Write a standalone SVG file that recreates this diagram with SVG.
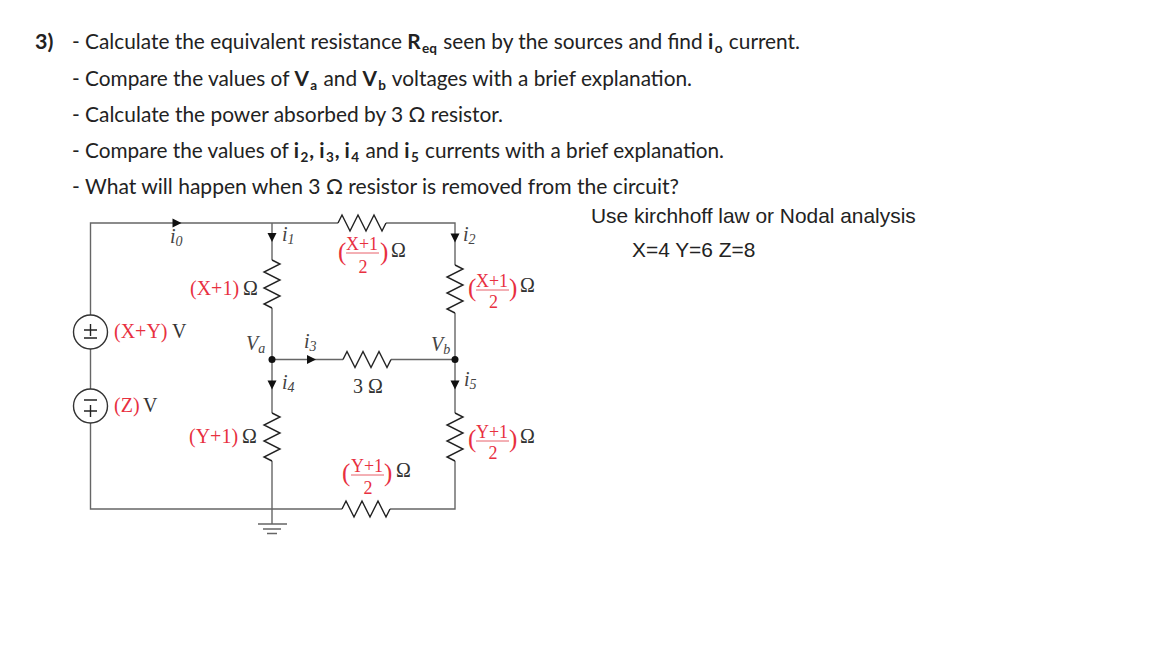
<svg xmlns="http://www.w3.org/2000/svg" width="1152" height="648" viewBox="0 0 1152 648">
<style>
.q{font:21.5px Lato,"Noto Sans",sans-serif;fill:#222}
.b{font-weight:700}
.s{font-size:14px;font-weight:700}
.n{font:20.9px "Liberation Sans",Arial,sans-serif;fill:#222}
.w{fill:none;stroke:#666;stroke-width:1.4}
.z{fill:none;stroke:#222;stroke-width:1.4}
.c{fill:#fff;stroke:#333;stroke-width:1.4}
.t{font:20px "Liberation Serif","Times New Roman",serif;fill:#333}
.i{font:italic 20px "Liberation Serif","Times New Roman",serif;fill:#444}
.u{font-size:14px}
.l{fill:#e8303f;font:20px "Liberation Serif","Times New Roman",serif}
.f{fill:#e8303f;font:18px "Liberation Serif","Times New Roman",serif}
.p{fill:#e8303f;font:25px "Liberation Serif","Times New Roman",serif}
.h{stroke:#e8606a;stroke-width:1}
.a{fill:#111}
</style>
<defs>
<path id="res" class="z" d="M0 0L4-8 12 8 20-8 28 8 36-8 44 8 48 0"/>
<path id="ad" class="a" d="M-4.500-4.500H4.500L0 4.500Z"/>
<path id="ar" class="a" d="M-4.500-4.500L4.500 0-4.500 4.500Z"/>
</defs>
<g id="question">
<text class="q b" x="35" y="49">3)</text>
<text class="q" x="72" y="49" textLength="728" lengthAdjust="spacingAndGlyphs">- Calculate the equivalent resistance <tspan class="b">R</tspan><tspan class="s" dx="1.500" dy="4">eq</tspan><tspan dx="1" dy="-4"> seen by the sources and find </tspan><tspan class="b">i</tspan><tspan class="s" dx="1.500" dy="4">o</tspan><tspan dx="1" dy="-4"> current.</tspan></text>
<text class="q" x="72" y="86" textLength="620" lengthAdjust="spacingAndGlyphs">- Compare the values of <tspan class="b">V</tspan><tspan class="s" dx="1.500" dy="4">a</tspan><tspan dx="1" dy="-4"> and </tspan><tspan class="b">V</tspan><tspan class="s" dx="1.500" dy="4">b</tspan><tspan dx="1" dy="-4"> voltages with a brief explanation.</tspan></text>
<text class="q" x="72" y="122" textLength="431" lengthAdjust="spacingAndGlyphs">- Calculate the power absorbed by 3 Ω resistor.</text>
<text class="q" x="72" y="158" textLength="652" lengthAdjust="spacingAndGlyphs">- Compare the values of <tspan class="b">i</tspan><tspan class="s" dx="1.500" dy="4">2</tspan><tspan class="b" dx="1" dy="-4">, i</tspan><tspan class="s" dx="1.500" dy="4">3</tspan><tspan class="b" dx="1" dy="-4">, i</tspan><tspan class="s" dx="1.500" dy="4">4</tspan><tspan dx="1" dy="-4"> and </tspan><tspan class="b">i</tspan><tspan class="s" dx="1.500" dy="4">5</tspan><tspan dx="1" dy="-4"> currents with a brief explanation.</tspan></text>
<text class="q" x="72" y="194" textLength="607" lengthAdjust="spacingAndGlyphs">- What will happen when 3 Ω resistor is removed from the circuit?</text>
</g>
<g id="notes">
<text class="n" x="591" y="223">Use kirchhoff law or Nodal analysis</text>
<text class="n" x="632" y="257">X=4 Y=6 Z=8</text>
</g>
<g id="connectors">
<path class="w" d="M90.500 315V223H338M386 223H455V265M455 313V413M455 461V509H390M342 509H90.500V423M90.500 389V349"/>
<path class="w" d="M272 223V260M272 308V413M272 461V524M272 359.500H343M391 359.500H455"/>
<path class="w" d="M258 524H287M263 529H281M267 533.500H277"/>
<use href="#ar" x="177" y="223"/>
<use href="#ad" x="272" y="237.500"/>
<use href="#ad" x="455" y="238"/>
<use href="#ad" x="272" y="385"/>
<use href="#ad" x="455" y="385"/>
<use href="#ar" x="311.500" y="359.500"/>
<circle class="a" cx="272" cy="359.500" r="3.500"/>
<circle class="a" cx="455" cy="359.500" r="3.500"/>
</g>
<g id="R1"><use href="#res" transform="translate(272 260) rotate(90)"/>
<text class="l" x="190" y="295">(X+1)</text><text class="t" x="243" y="295">Ω</text></g>
<g id="R2"><use href="#res" transform="translate(338 223)"/>
<text class="p" x="338" y="260">(</text><text class="f" x="346" y="250" textLength="32">X+1</text><path class="h" d="M346 253H379"/><text class="f" x="358.500" y="273">2</text><text class="p" x="380" y="260">)</text><text class="t" x="391" y="257">Ω</text></g>
<g id="R3"><use href="#res" transform="translate(455 265) rotate(90)"/>
<text class="p" x="468" y="296">(</text><text class="f" x="476" y="287" textLength="32">X+1</text><path class="h" d="M476 290H509"/><text class="f" x="489" y="308">2</text><text class="p" x="509" y="296">)</text><text class="t" x="520" y="292">Ω</text></g>
<g id="R4"><use href="#res" transform="translate(272 413) rotate(90)"/>
<text class="l" x="189" y="443">(Y+1)</text><text class="t" x="242" y="443">Ω</text></g>
<g id="R5"><use href="#res" transform="translate(343 359.500)"/>
<text class="t" x="353" y="393">3 Ω</text></g>
<g id="R6"><use href="#res" transform="translate(455 413) rotate(90)"/>
<text class="p" x="468" y="447">(</text><text class="f" x="476" y="438" textLength="32">Y+1</text><path class="h" d="M476 441H509"/><text class="f" x="488.500" y="459">2</text><text class="p" x="509" y="447">)</text><text class="t" x="520" y="443">Ω</text></g>
<g id="R7"><use href="#res" transform="translate(342 509)"/>
<text class="p" x="342" y="481">(</text><text class="f" x="351" y="472" textLength="32">Y+1</text><path class="h" d="M351 475H384"/><text class="f" x="363.500" y="494">2</text><text class="p" x="384" y="481">)</text><text class="t" x="396" y="477">Ω</text></g>
<g id="V1"><circle class="c" cx="90.500" cy="332" r="17"/>
<path class="z" d="M84 330H97M90.500 324V336M84 338H97" stroke-width="1"/>
<text class="l" x="114" y="338">(X+Y)</text><text class="t" x="172" y="338">V</text></g>
<g id="V2"><circle class="c" cx="90.500" cy="406" r="17"/>
<path class="z" d="M84 400H97M84 411H97M90.500 405V417" stroke-width="1"/>
<text class="l" x="114" y="412">(Z)</text><text class="t" x="143" y="412">V</text></g>
<g id="labels">
<text class="i" x="170" y="243">i<tspan class="u" dy="3">0</tspan></text>
<text class="i" x="282" y="241">i<tspan class="u" dy="3">1</tspan></text>
<text class="i" x="463" y="241">i<tspan class="u" dy="3">2</tspan></text>
<text class="i" x="304" y="348">i<tspan class="u" dy="3">3</tspan></text>
<text class="i" x="282" y="389">i<tspan class="u" dy="3">4</tspan></text>
<text class="i" x="464" y="386">i<tspan class="u" dy="3">5</tspan></text>
<text class="i" x="246" y="350">V<tspan class="u" dy="3">a</tspan></text>
<text class="i" x="431" y="351">V<tspan class="u" dy="3">b</tspan></text>
</g>
</svg>
